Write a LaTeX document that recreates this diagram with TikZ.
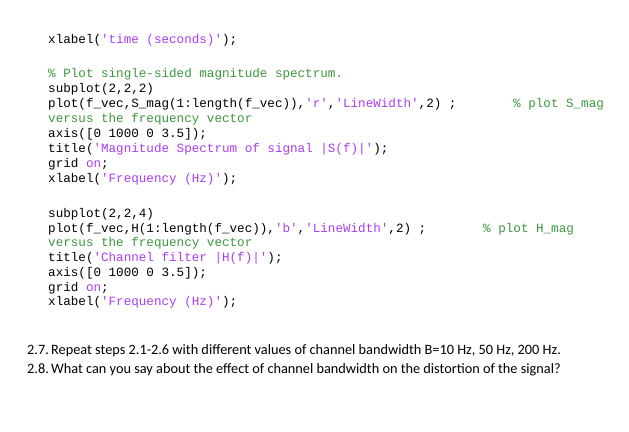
\documentclass[tikz,border=0pt]{standalone}
\usepackage{fontspec}
\newfontfamily\cf{Liberation Mono}
\newfontfamily\bodyf{Carlito}
\definecolor{str}{RGB}{170,60,240}
\definecolor{cmt}{RGB}{60,150,60}
\newcommand{\s}[1]{\textcolor{str}{#1}}
\newcommand{\cm}[1]{\textcolor{cmt}{#1}}
\tikzset{code/.style={anchor=base west,inner sep=0pt,font=\cf\fontsize{12.6bp}{14bp}\selectfont},
 txt/.style={anchor=base west,inner sep=0pt,font=\bodyf\fontsize{14.3bp}{16bp}\selectfont}}
\begin{document}
\begin{tikzpicture}[x=1bp,y=-1bp]
\useasboundingbox (0,0) rectangle (629,431);
\node[code] (l1) at (48,43) {xlabel(\s{'time (seconds)'});};
\node[code] (l2) at (48,77) {\cm{\% Plot single-sided magnitude spectrum.}};
\node[code] (l3) at (48,92) {subplot(2,2,2)};
\node[code] (l4) at (48,107) {plot(f\_vec,S\_mag(1:length(f\_vec)),\s{'r'},\s{'LineWidth'},2) ;};
\node[code] (c4) at (513,107) {\cm{\% plot S\_mag}};
\node[code] (l5) at (48,122) {\cm{versus the frequency vector}};
\node[code] (l6) at (48,137) {axis([0 1000 0 3.5]);};
\node[code] (l7) at (48,152) {title(\s{'Magnitude Spectrum of signal |S(f)|'});};
\node[code] (l8) at (48,167) {grid \s{on};};
\node[code] (l9) at (48,182) {xlabel(\s{'Frequency (Hz)'});};
\node[code] (m1) at (48,217) {subplot(2,2,4)};
\node[code] (m2) at (48,232) {plot(f\_vec,H(1:length(f\_vec)),\s{'b'},\s{'LineWidth'},2) ;};
\node[code] (c2) at (483,232) {\cm{\% plot H\_mag}};
\node[code] (m3) at (48,246) {\cm{versus the frequency vector}};
\node[code] (m4) at (48,261) {title(\s{'Channel filter |H(f)|'});};
\node[code] (m5) at (48,276) {axis([0 1000 0 3.5]);};
\node[code] (m6) at (48,291) {grid \s{on};};
\node[code] (m7) at (48,305) {xlabel(\s{'Frequency (Hz)'});};
\node[txt] (n1) at (27,354) {2.7.};
\node[txt] (t1) at (51,354) {Repeat steps 2.1-2.6 with different values of channel bandwidth B=10 Hz, 50 Hz, 200 Hz.};
\node[txt] (n2) at (27,373) {2.8.};
\node[txt] (t2) at (51,373) {What can you say about the effect of channel bandwidth on the distortion of the signal?};
\end{tikzpicture}
\end{document}
